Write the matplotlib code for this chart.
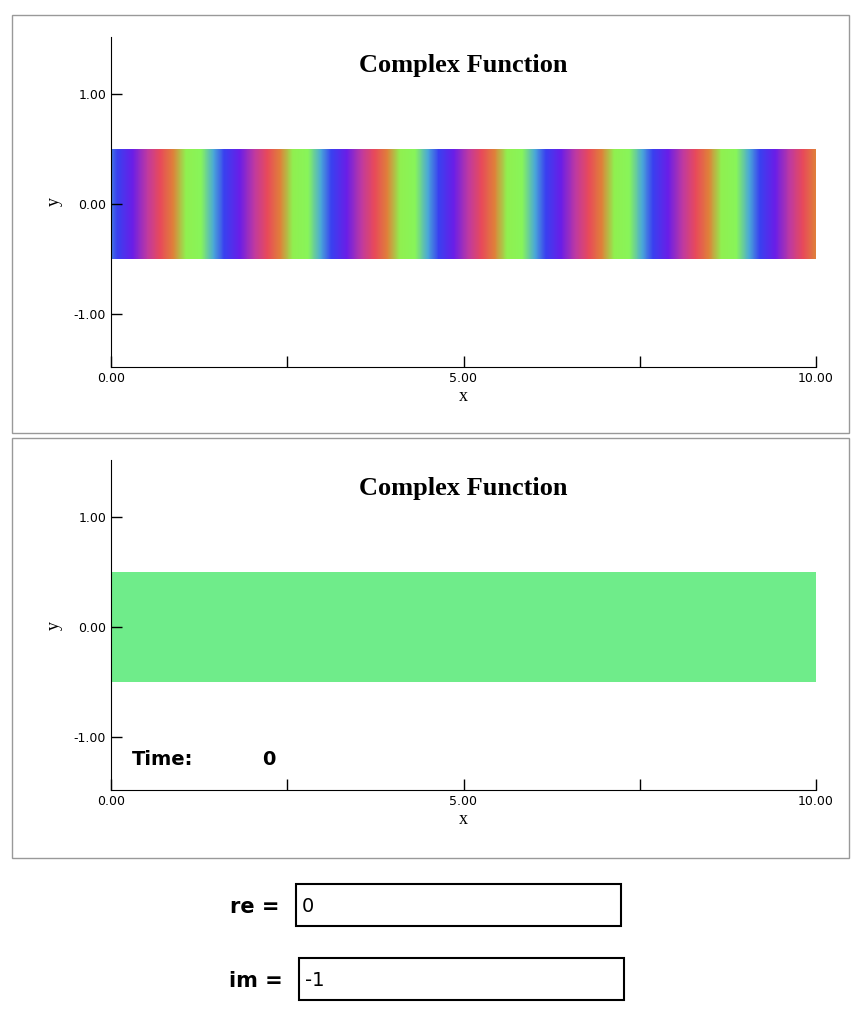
import numpy as np
import matplotlib
matplotlib.use("Agg")
import matplotlib.pyplot as plt
from matplotlib.patches import Rectangle
from matplotlib.colors import LinearSegmentedColormap

# complex function psi(x) = exp(i*(phase0 - k*x)), shown by phase colour
x_vals = np.linspace(0, 10, 800)
wave_k = 4.13          # rad per unit x (period ~1.52)
phase0 = 0.35          # phase offset at x = 0
band_lo, band_hi = -0.5, 0.5
time_value = 0
re_text, im_text = "0", "-1"
xticks = [0, 2.5, 5, 7.5, 10]
xlabels = ["0.00", "", "5.00", "", "10.00"]
yticks = [-1, 0, 1]
ylabels = ["-1.00", "0.00", "1.00"]

# phase colour wheel as seen in the reference (blue -> green -> orange -> red -> purple)
wheel_pos = [0.0, 0.10, 0.22, 0.36, 0.48, 0.60, 0.72, 0.86, 1.0]
wheel_col = ["#3a40f0", "#4aa8d8", "#88f55a", "#90f050", "#e0803a",
             "#e84a5a", "#c03aa0", "#6a1ee8", "#3a40f0"]
wheel = LinearSegmentedColormap.from_list("phase", list(zip(wheel_pos, wheel_col)))

W, H = 864, 1024
fig = plt.figure(figsize=(W / 100, H / 100), dpi=100)
serif = ["Liberation Serif", "DejaVu Serif"]

def px(l, t, r, b):
    return [l / W, 1 - b / H, (r - l) / W, (b - t) / H]

# panel frames
for (l, t, r, b) in [(12, 15, 849, 433), (12, 438, 849, 858)]:
    fig.patches.append(Rectangle((l / W, 1 - b / H), (r - l) / W, (b - t) / H,
                                 transform=fig.transFigure, fill=False,
                                 ec="#999999", lw=1))

def setup(ax):
    ax.set_xlim(0, 10)
    ax.set_ylim(-1.48, 1.52)
    for s in ("top", "right"):
        ax.spines[s].set_visible(False)
    ax.set_xticks(xticks, xlabels, fontsize=9, family="DejaVu Sans")
    ax.set_yticks(yticks, ylabels, fontsize=9, family="DejaVu Sans")
    ax.tick_params(direction="in", length=8, width=1)
    ax.set_xlabel("x", family=serif, fontsize=13, labelpad=2)
    ax.set_ylabel("y", family=serif, fontsize=13, labelpad=8)
    ax.set_title("Complex Function", family=serif, fontweight="bold",
                 fontsize=19, y=0.87)

# top panel: phase-coloured band
ax1 = fig.add_axes(px(111, 37, 816, 367))
setup(ax1)
phase = (phase0 - wave_k * x_vals) % (2 * np.pi) / (2 * np.pi)
ax1.imshow(wheel(phase)[None, :, :], extent=(0, 10, band_lo, band_hi),
           aspect="auto", interpolation="bilinear")
ax1.set_ylim(-1.48, 1.52)

# bottom panel: uniform band
ax2 = fig.add_axes(px(111, 460, 816, 790))
setup(ax2)
ax2.add_patch(Rectangle((0, band_lo), 10, band_hi - band_lo, color="#6fec8a", lw=0))
ax2.text(0.3, -1.2, "Time:", fontsize=14, fontweight="bold", va="center")
ax2.text(2.15, -1.2, str(time_value), fontsize=14, fontweight="bold", va="center")

# input fields
for label, val, ly, (l, t, r, b) in [("re =", re_text, 907, (296, 884, 621, 926)),
                                      ("im =", im_text, 981, (299, 958, 624, 1000))]:
    fig.text((l - 16) / W, 1 - ly / H, label, ha="right", va="center",
             fontsize=15, fontweight="bold")
    fig.patches.append(Rectangle((l / W, 1 - b / H), (r - l) / W, (b - t) / H,
                                 transform=fig.transFigure, fill=False,
                                 ec="black", lw=1.5))
    fig.text((l + 6) / W, 1 - ly / H, val, ha="left", va="center", fontsize=14)

fig.savefig("out.png", dpi=100)
